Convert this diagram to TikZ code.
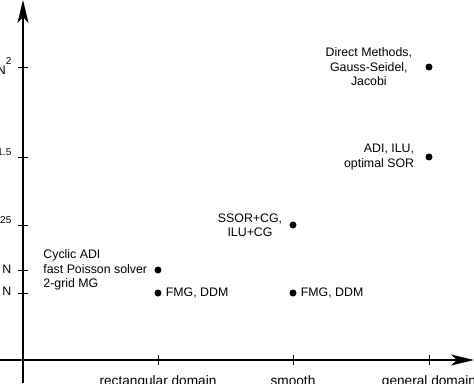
\documentclass[tikz,border=0pt]{standalone}
\usepackage{fontspec}
\setmainfont{Liberation Sans}
\usetikzlibrary{positioning,arrows.meta}

\newcommand\supnum[1]{\raisebox{10bp}{\fontsize{10}{10}\selectfont #1}}

\tikzset{
  axis/.style={line width=1.1bp,-{Stealth[length=23bp,width=11bp,inset=6bp]}},
  tickmark/.style={line width=0.8bp},
  dot/.style={circle,fill=black,inner sep=0pt,minimum size=7bp},
  meth/.style={font=\fontsize{12.4}{14.5}\selectfont,align=center,inner sep=0pt},
  costlabel/.style={font=\fontsize{12.4}{14.5}\selectfont,anchor=base east,inner sep=0pt},
  domlabel/.style={font=\fontsize{13.7}{15}\selectfont,anchor=north,inner sep=0pt},
}

\begin{document}
\begin{tikzpicture}[x=1bp,y=1bp]
  \useasboundingbox (0,0) rectangle (474,383);

  % axes
  \coordinate (xstart) at (0,23);
  \coordinate (xend) at (474,23);
  \coordinate (ystart) at (23,0);
  \coordinate (yend) at (23,383);
  \draw[axis] (xstart) -- (xend);
  \draw[axis] (ystart) -- (yend);

  % ticks on the domain axis
  \foreach \x/\lbl [count=\i] in {158/rectangular domain,293/smooth,429/general domain} {
    \draw[tickmark] (\x,18) -- (\x,28);
    \node[domlabel] (dom\i) at (\x,8) {\lbl};
  }

  % ticks on the cost axis (tick height / label baseline / label)
  \foreach \y/\b/\lbl [count=\i] in {316/309/N\supnum{2},226/218/N\supnum{1.5},158/150/N\supnum{1.25},113/110/N log N,90/88/N} {
    \draw[tickmark] (18,\y) -- (28,\y);
    \node[costlabel] (cost\i) at (11.5,\b) {\lbl};
  }

  % methods
  \node[dot] (direct) at (429,316) {};
  \node[dot] (adi) at (429,226) {};
  \node[dot] (ssor) at (293,158) {};
  \node[dot] (cyclic) at (158,113) {};
  \node[dot] (fmgrect) at (158,90) {};
  \node[dot] (fmgsmooth) at (293,90) {};

  \node[meth,left=13bp of direct] (directlbl) {Direct Methods,\\Gauss-Seidel,\\Jacobi};
  \node[meth,align=right,left=11bp of adi] (adilbl) {ADI, ILU,\\optimal SOR};
  \node[meth,left=7bp of ssor] (ssorlbl) {SSOR+CG,\\ILU+CG};
  \node[meth,align=left,left=7bp of cyclic] (cycliclbl) {Cyclic ADI\\fast Poisson solver\\2-grid MG};
  \node[meth,right=4bp of fmgrect] (fmgrectlbl) {FMG, DDM};
  \node[meth,right=4bp of fmgsmooth] (fmgsmoothlbl) {FMG, DDM};
\end{tikzpicture}
\end{document}
